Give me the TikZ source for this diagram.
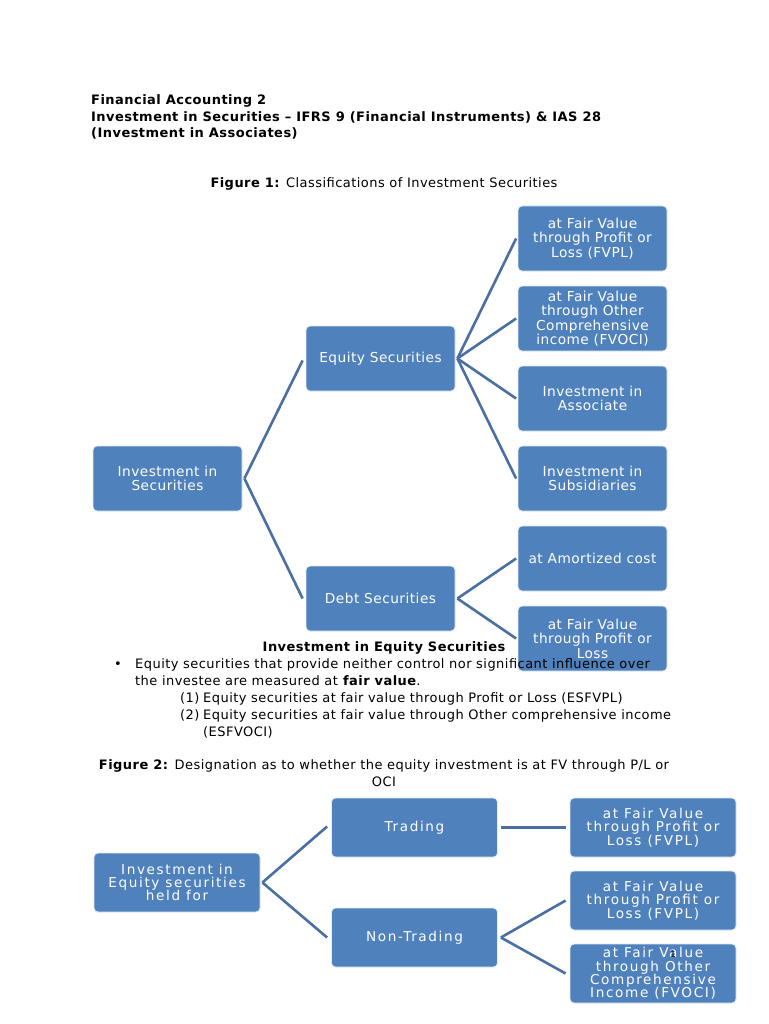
\documentclass[tikz,border=0pt]{standalone}
\usepackage{fontspec}
\setmainfont{DejaVu Sans}[LetterSpace=3.5]
\newfontfamily\boxfa{DejaVu Sans}[LetterSpace=3.5]
\newfontfamily\boxfb{DejaVu Sans}[LetterSpace=12]
\definecolor{boxblue}{HTML}{4F81BD}
\definecolor{lineblue}{HTML}{4A6FA3}
\begin{document}
\begin{tikzpicture}[x=1pt,y=-1pt,
  boxa/.style={rectangle, rounded corners=4pt, fill=boxblue, draw=white!85!boxblue, line width=0.8pt,
    text=white, align=center, inner sep=0pt, minimum width=149pt, minimum height=65pt,
    font=\boxfa\fontsize{13.7}{14.5}\selectfont},
  boxb/.style={boxa, minimum width=166pt, minimum height=59pt, font=\boxfb\fontsize{13.6}{13.4}\selectfont},
  conn/.style={draw=lineblue, line width=2.6pt},
  txt/.style={anchor=base west, inner sep=0pt, font=\fontsize{13}{15}\selectfont},
  ttl/.style={anchor=base west, inner sep=0pt, font=\bfseries\fontsize{13}{15}\selectfont},
  ctxt/.style={anchor=base, inner sep=0pt, font=\fontsize{13}{15}\selectfont}]
\useasboundingbox[fill=white] (0,0) rectangle (768,1024);

% title
\node[ttl] (t1) at (91,105) {Financial Accounting 2};
\node[ttl] (t2) at (91,122) {Investment in Securities -- IFRS 9 (Financial Instruments) \& IAS 28};
\node[ttl] (t3) at (91,138) {(Investment in Associates)};
\node[ctxt] (f1) at (384,188) {\textbf{Figure 1:} Classifications of Investment Securities};

% Figure 1
\node[boxa] (inv) at (167.5,478.5) {Investment in\\Securities};
\node[boxa] (eq) at (380.5,358.5) {Equity Securities};
\node[boxa] (debt) at (380.5,598.5) {Debt Securities};
\node[boxa] (r1) at (592.5,238.5) {at Fair Value\\through Profit or\\Loss (FVPL)};
\node[boxa] (r2) at (592.5,318.5) {at Fair Value\\through Other\\Comprehensive\\income (FVOCI)};
\node[boxa] (r3) at (592.5,398.5) {Investment in\\Associate};
\node[boxa] (r4) at (592.5,478.5) {Investment in\\Subsidiaries};
\node[boxa] (r5) at (592.5,558.5) {at Amortized cost};
\node[boxa] (r6) at (592.5,638.5) {at Fair Value\\through Profit or\\Loss};

\draw[conn] ([xshift=2pt]inv.east) -- ([xshift=-3pt,yshift=-2pt]eq.west);
\draw[conn] ([xshift=2pt]inv.east) -- ([xshift=-3pt]debt.west);
\foreach \r in {r1,r2,r3,r4}{\draw[conn] ([xshift=2pt]eq.east) -- ([xshift=-1.5pt]\r.west);}
\foreach \r in {r5,r6}{\draw[conn] ([xshift=2pt]debt.east) -- ([xshift=-1.5pt]\r.west);}

% text block
\node[anchor=base, inner sep=0pt, font=\bfseries\fontsize{13}{15}\selectfont] (h1) at (384,651) {Investment in Equity Securities};
\node[txt] (b0) at (114,668) {\textbullet};
\node[txt] (b1) at (135,668) {Equity securities that provide neither control nor significant influence over};
\node[txt] (b2) at (135,685) {the investee are measured at \textbf{fair value}.};
\node[txt] (n1) at (180,702) {\makebox[23pt][l]{(1)}Equity securities at fair value through Profit or Loss (ESFVPL)};
\node[txt] (n2) at (180,719) {\makebox[23pt][l]{(2)}Equity securities at fair value through Other comprehensive income};
\node[txt] (n3) at (203,736) {(ESFVOCI)};
\node[ctxt] (f2a) at (384,769) {\textbf{Figure 2:} Designation as to whether the equity investment is at FV through P/L or};
\node[ctxt] (f2b) at (384,786) {OCI};

% Figure 2
\node[boxb] (hold) at (177,882.5) {Investment in\\Equity securities\\held for};
\node[boxb] (trad) at (414.5,827.5) {Trading};
\node[boxb] (ntrad) at (414.5,937.5) {Non-Trading};
\node[boxb] (s1) at (653,827.5) {at Fair Value\\through Profit or\\Loss (FVPL)};
\node[boxb] (s2) at (653,900.5) {at Fair Value\\through Profit or\\Loss (FVPL)};
\node[boxb] (s3) at (653,973.5) {at Fair Value\\through Other\\Comprehensive\\Income (FVOCI)};

\draw[conn] ([xshift=2pt]hold.east) -- ([xshift=-4pt,yshift=1pt]trad.west);
\draw[conn] ([xshift=2pt]hold.east) -- ([xshift=-4pt]ntrad.west);
\draw[conn] ([xshift=3pt]trad.east) -- ([xshift=-4pt]s1.west);
\draw[conn] ([xshift=3pt]ntrad.east) -- ([xshift=-4pt]s2.west);
\draw[conn] ([xshift=3pt]ntrad.east) -- ([xshift=-4pt]s3.west);

\node[anchor=base, inner sep=0pt, font=\fontsize{9}{10}\selectfont] (pg) at (673,957) {1};
\end{tikzpicture}
\end{document}
